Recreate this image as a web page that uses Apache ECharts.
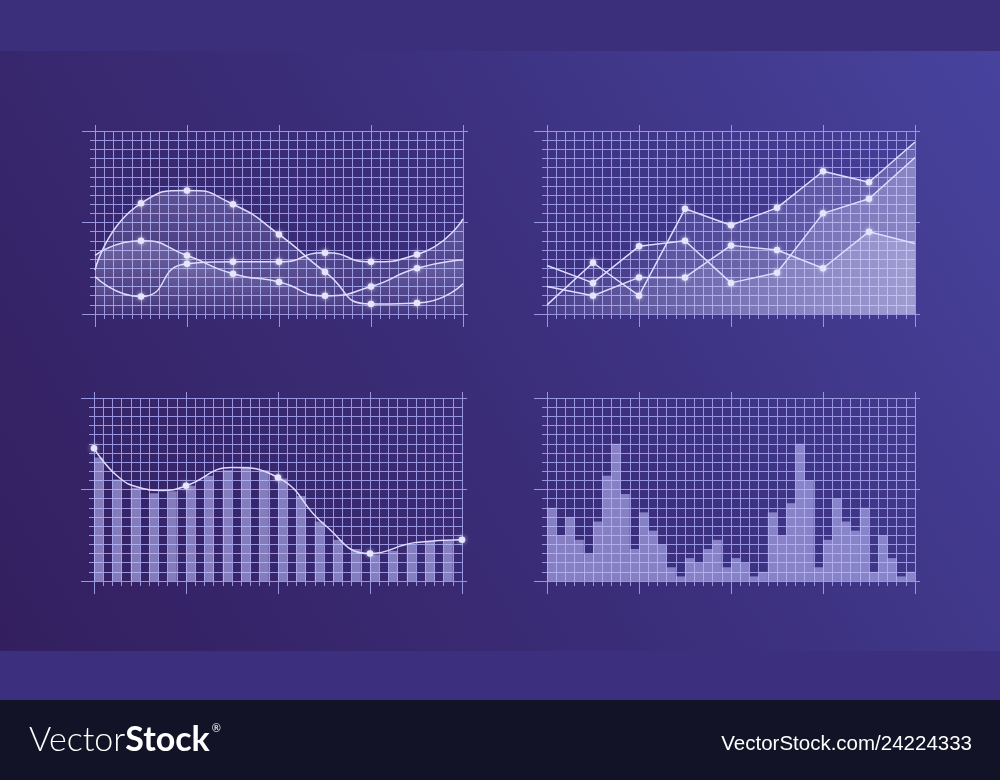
<!DOCTYPE html>
<html>
<head>
<meta charset="utf-8">
<script src="https://cdn.jsdelivr.net/npm/echarts@6/dist/echarts.min.js"></script>
<style>
html,body{margin:0;padding:0;background:#3b2e7b;}
#c{width:1000px;height:780px;}
</style>
</head>
<body>
<div id="c"></div>
<script>
// ---------- data ----------
// top-left: three smooth waves (x positions on a 0..40 scale, values on 0..20)
const wavePositions = [0, 5, 10, 15, 20, 25, 30, 35, 40];
const waveA = [4.8, 12.1, 13.5, 12.0, 8.7, 4.6, 1.1, 1.2, 3.3];
const waveB = [6.4, 8.0, 6.4, 4.4, 3.5, 2.0, 3.0, 5.0, 5.9];
const waveC = [4.1, 1.9, 5.5, 5.7, 5.7, 6.7, 5.7, 6.5, 10.4];

// top-right: three polylines
const linePositions = [0, 5, 10, 15, 20, 25, 30, 35, 40];
const lineOne = [5.3, 3.4, 7.4, 8.0, 3.4, 4.5, 11.0, 12.6, 17.1];
const lineTwo = [3.0, 2.0, 4.0, 4.0, 7.5, 7.0, 5.0, 9.0, 7.7];
const lineThree = [1.0, 5.6, 2.0, 11.5, 9.7, 11.6, 15.6, 14.4, 18.8];

// bottom-left: 20 bars (one every other cell) with a smooth trend line
const columnValues = [13.5, 11.1, 10.2, 9.6, 9.8, 10.4, 11.5, 12.1, 12.5, 12.1,
                      11.2, 9.3, 6.5, 4.5, 3.5, 2.9, 3.3, 4.0, 4.4, 4.4];
const trendPositions = [0, 2.5, 5, 7.5, 10, 15, 20, 25, 30, 35, 40];
const trendValues = [14.5, 11.5, 10.2, 9.9, 10.4, 12.4, 11.3, 6.2, 3.0, 4.2, 4.5];
const trendMarked = [0, 10, 20, 30, 40];

// bottom-right: 40 contiguous bars
const histogramValues = [8, 5, 7, 4.5, 3, 6.5, 11.5, 15, 9.5, 3.5,
                         7.5, 5.5, 4, 1.5, 0.5, 2.5, 2, 3.5, 4.5, 1.5,
                         2.5, 2, 0.5, 1, 7.5, 5, 8.5, 15, 11, 1.5,
                         4.5, 9, 6.5, 5.5, 8, 1, 5, 2.5, 0.5, 1];

// axis scale (unitless grid: 40 x 20 cells)
const xMax = 40, yMax = 20, majorStep = 10;

// ---------- style ----------
const GRID = '#9896e1';
const LINE = '#dddcff';
const MARK = '#e6e5ff';
const BAR = 'rgba(196,196,255,0.55)';
const W = 368, H = 183;
const panels = [
  {left: 95, top: 131},
  {left: 547, top: 131},
  {left: 94, top: 398},
  {left: 547, top: 398}
];

const grid = [], xAxis = [], yAxis = [], series = [];

panels.forEach((p, g) => {
  grid.push({left: p.left, top: p.top, width: W, height: H, containLabel: false});
  xAxis.push({
    gridIndex: g, type: 'value', min: 0, max: xMax, interval: majorStep, position: 'bottom',
    axisLine: {show: true, onZero: false, lineStyle: {color: GRID, width: 1}},
    axisTick: {show: true, length: 13, lineStyle: {color: GRID, width: 1}},
    minorTick: {show: true, splitNumber: 10, length: 5, lineStyle: {color: GRID, width: 1}},
    splitLine: {show: true, lineStyle: {color: GRID, width: 1}},
    minorSplitLine: {show: true, lineStyle: {color: GRID, width: 1}},
    axisLabel: {show: false}
  });
  xAxis.push({
    gridIndex: g, type: 'value', min: 0, max: xMax, interval: majorStep, position: 'top',
    axisLine: {show: true, onZero: false, lineStyle: {color: GRID, width: 1}},
    axisTick: {show: true, length: 6, lineStyle: {color: GRID, width: 1}},
    splitLine: {show: false}, axisLabel: {show: false}
  });
  yAxis.push({
    gridIndex: g, type: 'value', min: 0, max: yMax, interval: majorStep, position: 'left',
    axisLine: {show: true, onZero: false, lineStyle: {color: GRID, width: 1}},
    axisTick: {show: true, length: 13, lineStyle: {color: GRID, width: 1}},
    minorTick: {show: true, splitNumber: 10, length: 5, lineStyle: {color: GRID, width: 1}},
    splitLine: {show: true, lineStyle: {color: GRID, width: 1}},
    minorSplitLine: {show: true, lineStyle: {color: GRID, width: 1}},
    axisLabel: {show: false}
  });
  yAxis.push({
    gridIndex: g, type: 'value', min: 0, max: yMax, interval: majorStep, position: 'right',
    axisLine: {show: true, onZero: false, lineStyle: {color: GRID, width: 1}},
    axisTick: {show: true, length: 5, lineStyle: {color: GRID, width: 1}},
    splitLine: {show: false}, axisLabel: {show: false}
  });
});

// overlay grids with category axes for the bar panels
const cellCats = histogramValues.map((_, i) => String(i));
[2, 3].forEach((pi, k) => {
  const p = panels[pi];
  grid.push({left: p.left, top: p.top, width: W, height: H, containLabel: false});
  xAxis.push({gridIndex: 4 + k, type: 'category', data: cellCats, boundaryGap: true, show: false});
  yAxis.push({gridIndex: 4 + k, type: 'value', min: 0, max: yMax, show: false});
});

function points(xs, ys, isMarked) {
  return xs.map((x, i) => ({
    value: [x, ys[i]],
    symbol: isMarked(x, i) ? 'circle' : 'none'
  }));
}
const innerOnly = (x, i) => i > 0 && i < wavePositions.length - 1;

const vGrad = {type: 'linear', x: 0, y: 0, x2: 0, y2: 1, colorStops: [
  {offset: 0, color: 'rgba(215,215,255,0.34)'},
  {offset: 1, color: 'rgba(215,215,255,0.03)'}]};
const hGrad = {type: 'linear', x: 0, y: 0, x2: 1, y2: 0, colorStops: [
  {offset: 0, color: 'rgba(215,215,255,0.04)'},
  {offset: 1, color: 'rgba(225,225,255,0.36)'}]};

function lineSeries(xi, yi, data, smooth, area) {
  return {
    type: 'line', xAxisIndex: xi, yAxisIndex: yi, data: data, smooth: smooth,
    symbolSize: 6.5, showSymbol: true, z: 3,
    lineStyle: {color: LINE, width: 1.5},
    itemStyle: {color: MARK, shadowBlur: 4, shadowColor: 'rgba(255,255,255,0.7)'},
    areaStyle: area ? {color: area, origin: 'start'} : undefined,
    silent: true
  };
}

// top-left
[waveA, waveB, waveC].forEach(w => series.push(lineSeries(0, 0, points(wavePositions, w, innerOnly), 0.6, vGrad)));
// top-right
[lineOne, lineTwo, lineThree].forEach(l => series.push(lineSeries(2, 2, points(linePositions, l, innerOnly), false, hGrad)));
// bottom-left bars (every other cell)
series.push({
  type: 'bar', xAxisIndex: 8, yAxisIndex: 8, barWidth: '100%', z: 2,
  data: columnValues.flatMap(v => [v, '-']),
  itemStyle: {color: BAR}, silent: true
});
series.push(lineSeries(4, 4, points(trendPositions, trendValues, x => trendMarked.includes(x)), 0.5, null));
// bottom-right histogram
series.push({
  type: 'bar', xAxisIndex: 9, yAxisIndex: 9, barWidth: '100%', z: 2,
  data: histogramValues,
  itemStyle: {color: BAR}, silent: true
});

const chart = echarts.init(document.getElementById('c'), null, {renderer: 'canvas'});
chart.setOption({
  animation: false,
  backgroundColor: '#3b2e7b',
  grid, xAxis, yAxis, series,
  graphic: {elements: [
    {type: 'rect', z: -100, silent: true, shape: {x: 0, y: 51, width: 1000, height: 600},
      style: {fill: {type: 'linear', x: 0, y: 1, x2: 1, y2: 0, global: false, colorStops: [
        {offset: 0, color: '#331f5f'}, {offset: 0.5, color: '#3b2e7a'}, {offset: 1, color: '#47439e'}]}}},
    {type: 'rect', z: -100, silent: true, shape: {x: 0, y: 651, width: 1000, height: 49},
      style: {fill: '#3c2f7d'}},
    {type: 'rect', z: -100, silent: true, shape: {x: 0, y: 700, width: 1000, height: 80},
      style: {fill: '#121326'}},
    {type: 'text', z: 10, left: 29, top: 723, silent: true,
      style: {text: '{a|Vector}{b|Stock}{c|®}', rich: {
        a: {fontSize: 34, fontFamily: 'Lato', fontWeight: 300, fill: '#ffffff'},
        b: {fontSize: 34, fontFamily: 'Lato', fontWeight: 'bold', fill: '#ffffff'},
        c: {fontSize: 11, fontFamily: 'Lato', fill: '#ffffff', verticalAlign: 'top', padding: [0, 0, 0, 2]}
      }}},
    {type: 'text', z: 10, right: 28, top: 734, silent: true,
      style: {text: 'VectorStock.com/24224333', fontSize: 20.5, fontFamily: 'Liberation Sans', fill: '#ffffff'}}
  ]}
});
</script>
</body>
</html>
